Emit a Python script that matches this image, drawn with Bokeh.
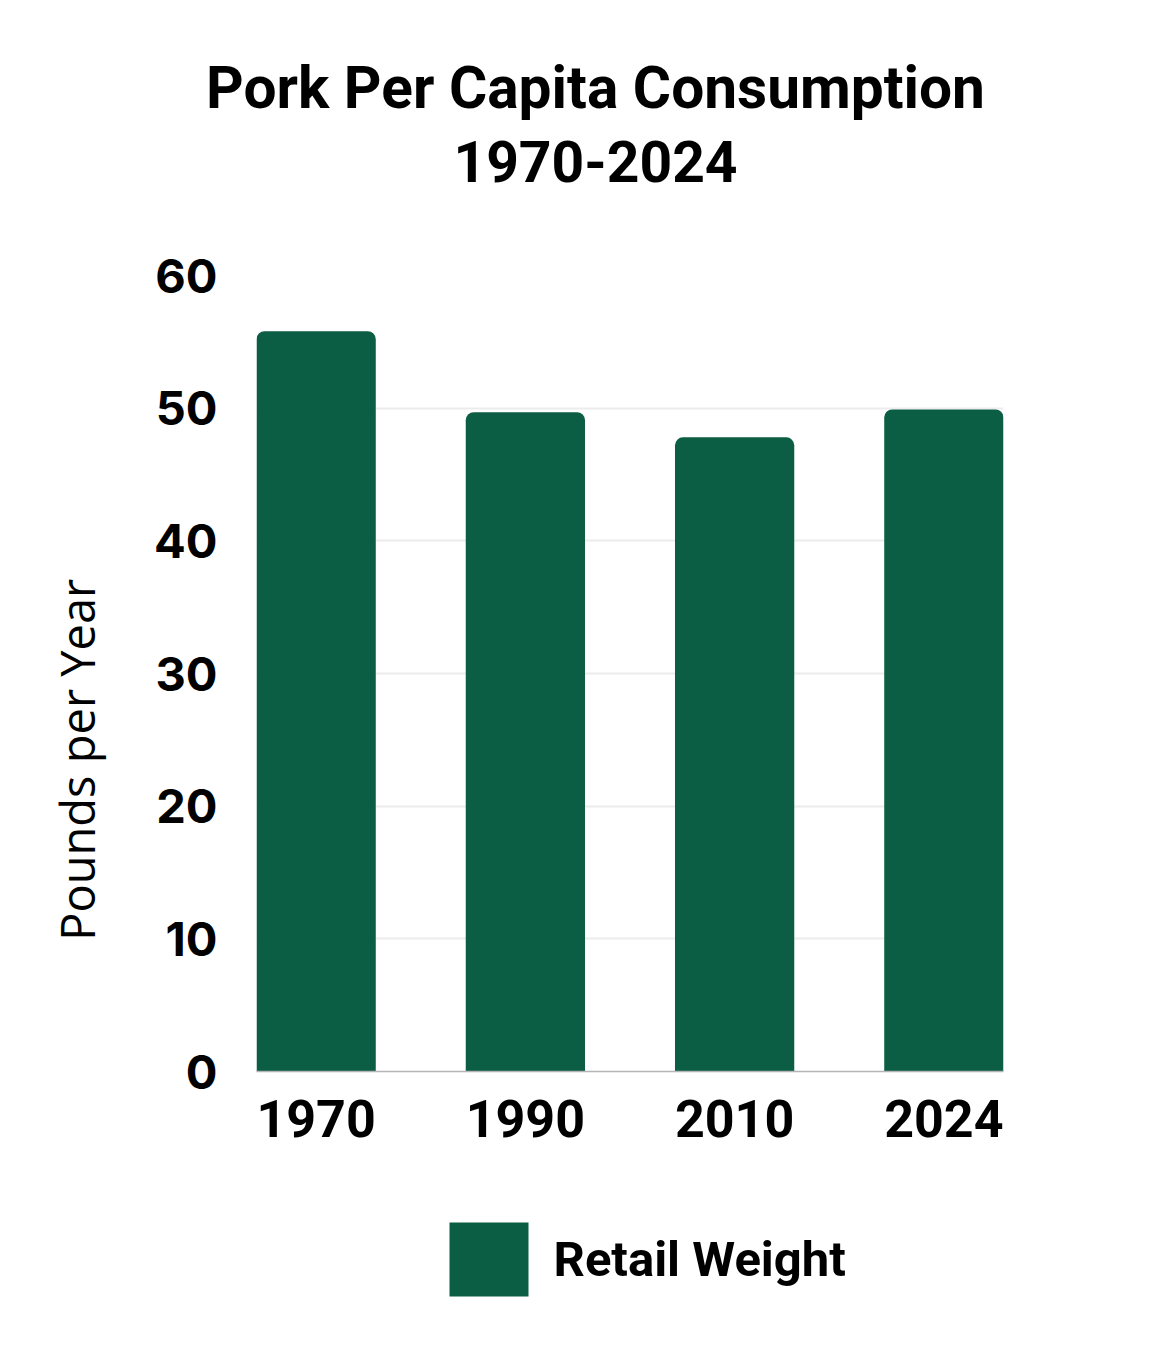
import math
from bokeh.plotting import figure
from bokeh.layouts import column, row
from bokeh.models import FixedTicker, Range1d
from bokeh.core.properties import value
from bokeh.embed import file_html
from bokeh.resources import INLINE

# ---- data ----
years = ["1970", "1990", "2010", "2024"]
retail_weight = [55.8, 49.7, 47.8, 49.9]
y_ticks = [0, 10, 20, 30, 40, 50, 60]
series_name = "Retail Weight"
title_line1 = "Pork Per Capita Consumption"
title_line2 = "1970-2024"
y_label = "Pounds per Year"

BAR = "#0b5e43"
W, H = 1164, 1346
TITLE_H, LEGEND_H = 225, 166
MAIN_H = H - TITLE_H - LEGEND_H
YLAB_W = 130


def blank(width, height):
    f = figure(width=width, height=height, output_backend="svg", toolbar_location=None,
               x_range=Range1d(0, width), y_range=Range1d(height, 0),
               min_border=0, outline_line_color=None)
    f.axis.visible = False
    f.grid.visible = False
    return f


# ---- title ----
t = blank(W, TITLE_H)
t.text(x=[595], y=[87], text=[title_line1],
       text_align="center", text_baseline="middle",
       text_font=value("Roboto"), text_font_style="bold",
       text_font_size="58.6px", text_color="#000000")
t.text(x=[595], y=[161], text=[title_line2],
       text_align="center", text_baseline="middle",
       text_font=value("Roboto"), text_font_style="bold",
       text_font_size="57px", text_color="#000000")

# ---- y-axis title ----
yl = blank(YLAB_W, MAIN_H)
yl.text(x=[76], y=[581], text=[y_label], angle=math.pi / 2,
        text_align="center", text_baseline="middle",
        text_font=value("Open Sans"), text_font_style="normal",
        text_font_size="47px", text_color="#000000")

# ---- main chart ----
positions = list(range(len(years)))
p = figure(width=W - YLAB_W, height=MAIN_H, output_backend="svg", toolbar_location=None,
           x_range=Range1d(-0.285, len(years) - 1 + 0.285), y_range=Range1d(0, 60),
           min_border_left=256 - YLAB_W, min_border_right=161, min_border_top=50,
           min_border_bottom=MAIN_H - 50 - 796)
p.outline_line_color = None

p.vbar(x=positions, top=retail_weight, width=0.57, fill_color=BAR,
       line_color=None, border_radius=(8, 8, 0, 0))

p.xgrid.grid_line_color = None
p.ygrid.ticker = FixedTicker(ticks=y_ticks)
p.ygrid.grid_line_color = "#ececec"
p.ygrid.grid_line_width = 2

p.xaxis.ticker = FixedTicker(ticks=positions)
p.xaxis.major_label_overrides = {i: y for i, y in zip(positions, years)}
p.xaxis.major_tick_line_color = None
p.xaxis.minor_tick_line_color = None
p.xaxis.axis_line_color = "#b5b5b5"
p.xaxis.axis_line_width = 1.5
p.xaxis.major_label_text_font = "Roboto"
p.xaxis.major_label_text_font_style = "bold"
p.xaxis.major_label_text_font_size = "52px"
p.xaxis.major_label_text_color = "#000000"
p.xaxis.major_label_standoff = 22

p.yaxis.ticker = FixedTicker(ticks=y_ticks)
p.yaxis.major_tick_line_color = None
p.yaxis.minor_tick_line_color = None
p.yaxis.axis_line_color = None
p.yaxis.major_label_text_font = "Inter"
p.yaxis.major_label_text_font_style = "bold"
p.yaxis.major_label_text_font_size = "47px"
p.yaxis.major_label_text_color = "#000000"
p.yaxis.major_label_standoff = 33

# ---- legend ----
lg = blank(W, LEGEND_H)
lg.rect(x=[488.5], y=[79], width=[79], height=[74], fill_color=BAR, line_color=None)
lg.text(x=[553], y=[79], text=[series_name], text_align="left", text_baseline="middle",
        text_font=value("Roboto"), text_font_style="bold", text_font_size="49px",
        text_color="#000000")

layout = column(t, row(yl, p, spacing=0), lg, spacing=0)
open("out.html", "w").write(file_html(layout, INLINE))
